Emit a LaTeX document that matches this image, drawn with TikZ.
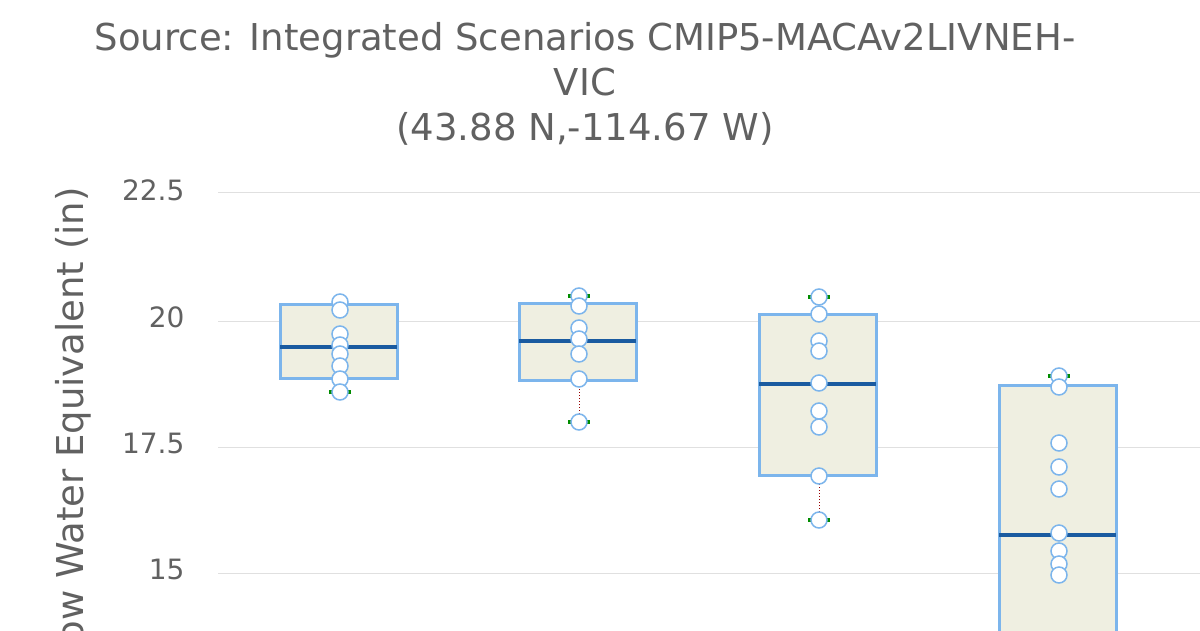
\documentclass[tikz,border=0pt]{standalone}
\usepackage{fontspec}
\setmainfont{DejaVu Sans}
\definecolor{boxblue}{HTML}{7CB5EC}
\definecolor{medblue}{HTML}{1A5BA0}
\definecolor{boxfill}{HTML}{EFEFE1}
\begin{document}
\begin{tikzpicture}[x=1pt,y=-1pt,
 grid/.style={draw=black!12,line width=1pt},
 boxst/.style={draw=boxblue,fill=boxfill,line width=3pt},
 med/.style={draw=medblue,line width=4.5pt},
 pt/.style={circle,draw=boxblue,fill=white,line width=1.5pt,minimum size=16pt,inner sep=0pt},
 capline/.style={draw=green!55!black,line width=3.5pt},
 wh/.style={draw=red!60!black,dotted,line width=1pt},
 lab/.style={text=black!62,font=\fontsize{28}{32}\selectfont}]
\clip (0,0) rectangle (1200,630);
\fill[white] (0,0) rectangle (1200,630);
\foreach \y in {192,321,447,573} \draw[grid] (218,\y) -- (1200,\y);
\node[lab,anchor=east] (t1) at (188,190) {22.5};
\node[lab,anchor=east] (t2) at (188,317) {20};
\node[lab,anchor=east] (t3) at (188,443) {17.5};
\node[lab,anchor=east] (t4) at (188,569) {15};
\node[lab,anchor=west,rotate=90,font=\fontsize{37}{40}\selectfont] (yl) at (73,694) {Snow Water Equivalent (in)};
\node[lab,align=center,font=\fontsize{37}{45}\selectfont] (title) at (585,84) {Source: Integrated Scenarios CMIP5-MACAv2LIVNEH-\\VIC\\(43.88 N,-114.67 W)};
% box 1
\draw[boxst] (280,304) rectangle (397,378);
\draw[med] (280,347) -- (397,347);
\draw[capline] (329,392) -- (351,392);
\foreach \y in {302,310,334,345,354,366,379,392} \node[pt] at (340,\y) {};
% box 2
\draw[wh] (579,380) -- (579,422);
\draw[boxst] (519,303) rectangle (636,380);
\draw[med] (519,341) -- (636,341);
\draw[capline] (568,296) -- (590,296);
\draw[capline] (568,422) -- (590,422);
\foreach \y in {296,306,328,339,354,379,422} \node[pt] at (579,\y) {};
% box 3
\draw[wh] (819,475) -- (819,520);
\draw[boxst] (759,314) rectangle (876,475);
\draw[med] (759,384) -- (876,384);
\draw[capline] (808,297) -- (830,297);
\draw[capline] (808,520) -- (830,520);
\foreach \y in {297,314,341,351,383,411,427,476,520} \node[pt] at (819,\y) {};
% box 4
\draw[boxst] (999,385) rectangle (1116,700);
\draw[med] (999,535) -- (1116,535);
\draw[capline] (1048,376) -- (1070,376);
\foreach \y in {376,387,443,467,489,533,551,564,575} \node[pt] at (1059,\y) {};
\end{tikzpicture}
\end{document}
